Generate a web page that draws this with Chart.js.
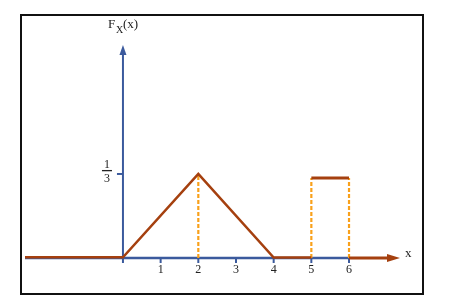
<!DOCTYPE html>
<html>
<head>
<meta charset="utf-8">
<script src="https://cdn.jsdelivr.net/npm/chart.js@4"></script>
<style>
  html, body { margin: 0; padding: 0; background: #fff; }
  #wrap { width: 452px; height: 306px; }
</style>
</head>
<body>
<div id="wrap"><canvas id="fxChart" width="452" height="306"></canvas></div>
<script>
// dữ liệu: hàm F_X(x)
const curveX = [-2.6, 0, 2, 4, 5];
const curveY = [0.003, 0.003, 1 / 3, 0.002, 0.002];
const stepX = [5, 6];
const stepY = [0.317, 0.317];
const dashX = [2, 5, 6];
const dashTop = [1 / 3, 0.317, 0.317];
const tickValues = [1, 2, 3, 4, 5, 6];
const tickLabels = ['1', '2', '3', '4', '5', '6'];

const brown = '#a5400f';
const blue = '#3b5a9d';
const orange = '#f9a11b';

const toPoints = (xs, ys) => xs.map((x, i) => ({ x: x, y: ys[i] }));

const datasets = [];
// đường đứt nét màu cam
dashX.forEach((x, i) => {
    datasets.push({
        data: [{ x: x, y: 0 }, { x: x, y: dashTop[i] }],
        borderColor: orange,
        borderWidth: 2.2,
        borderDash: [4, 2],
        pointRadius: 0,
        order: 3
    });
});
datasets.push({
    data: toPoints(curveX, curveY),
    borderColor: brown,
    borderWidth: 2.5,
    pointRadius: 0,
    order: 1
});
datasets.push({
    data: toPoints(stepX, stepY),
    borderColor: brown,
    borderWidth: 3,
    pointRadius: 0,
    order: 1
});

// trục tọa độ, mũi tên, nhãn
const axesPlugin = {
    id: 'axes',
    beforeDatasetsDraw(chart) {
        const ctx = chart.ctx;
        const xs = chart.scales.x, ys = chart.scales.y;
        const y0 = ys.getPixelForValue(0);
        const x0 = xs.getPixelForValue(0);
        ctx.save();
        ctx.strokeStyle = blue;
        ctx.fillStyle = blue;
        // trục x màu xanh
        ctx.lineWidth = 2.5;
        ctx.beginPath();
        ctx.moveTo(chart.chartArea.left, y0);
        ctx.lineTo(xs.getPixelForValue(6), y0);
        ctx.stroke();
        // vạch chia
        ctx.lineWidth = 2;
        tickValues.forEach(v => {
            const px = xs.getPixelForValue(v);
            ctx.beginPath();
            ctx.moveTo(px, y0);
            ctx.lineTo(px, y0 + 5);
            ctx.stroke();
        });
        // trục y
        ctx.beginPath();
        ctx.moveTo(x0, y0 + 5);
        ctx.lineTo(x0, chart.chartArea.top + 8);
        ctx.stroke();
        ctx.beginPath();
        ctx.moveTo(x0, chart.chartArea.top);
        ctx.lineTo(x0 - 3.5, chart.chartArea.top + 10);
        ctx.lineTo(x0 + 3.5, chart.chartArea.top + 10);
        ctx.closePath();
        ctx.fill();
        // vạch 1/3
        const yThird = ys.getPixelForValue(1 / 3);
        ctx.beginPath();
        ctx.moveTo(x0 - 6, yThird);
        ctx.lineTo(x0, yThird);
        ctx.stroke();
        ctx.restore();
    },
    afterDraw(chart) {
        const ctx = chart.ctx;
        const xs = chart.scales.x, ys = chart.scales.y;
        const y0 = ys.getPixelForValue(0);
        const x0 = xs.getPixelForValue(0);
        ctx.save();
        // mũi tên trục x màu nâu
        const x6 = xs.getPixelForValue(6);
        const tip = chart.chartArea.right + 2;
        ctx.strokeStyle = brown;
        ctx.fillStyle = brown;
        ctx.lineWidth = 3;
        ctx.beginPath();
        ctx.moveTo(x6, y0);
        ctx.lineTo(tip - 10, y0);
        ctx.stroke();
        ctx.beginPath();
        ctx.moveTo(tip, y0);
        ctx.lineTo(tip - 13, y0 - 4);
        ctx.lineTo(tip - 13, y0 + 4);
        ctx.closePath();
        ctx.fill();

        // nhãn
        ctx.fillStyle = '#222';
        ctx.font = '12px "Liberation Serif"';
        ctx.textAlign = 'center';
        ctx.textBaseline = 'middle';
        tickValues.forEach((v, i) => {
            ctx.fillText(tickLabels[i], xs.getPixelForValue(v), y0 + 12);
        });
        const yThird = ys.getPixelForValue(1 / 3);
        ctx.fillText('1', x0 - 16, yThird - 9);
        ctx.fillText('3', x0 - 16, yThird + 5);
        ctx.fillRect(x0 - 21, yThird - 4, 10, 1.3);

        ctx.font = '13px "Liberation Serif"';
        ctx.textAlign = 'left';
        ctx.fillText('x', tip + 5, y0 - 4);
        ctx.fillText('F', 108, 25);
        ctx.font = '10px "Liberation Serif"';
        ctx.fillText('X', 116, 30);
        ctx.font = '13px "Liberation Serif"';
        ctx.fillText('(x)', 123, 25);

        // khung
        ctx.strokeStyle = '#111';
        ctx.lineWidth = 2;
        ctx.strokeRect(21, 15, 402, 279);
        ctx.restore();
    }
};

const ctx = document.getElementById('fxChart').getContext('2d');
new Chart(ctx, {
    type: 'line',
    data: { datasets: datasets },
    options: {
        responsive: false,
        animation: false,
        layout: { padding: { left: 25, right: 54, top: 45, bottom: 44 } },
        plugins: { legend: { display: false }, tooltip: { enabled: false } },
        scales: {
            x: { type: 'linear', min: -2.6, max: 7.3, display: false },
            y: { type: 'linear', min: -0.0159, max: 0.845, display: false }
        }
    },
    plugins: [axesPlugin]
});
</script>
</body>
</html>
